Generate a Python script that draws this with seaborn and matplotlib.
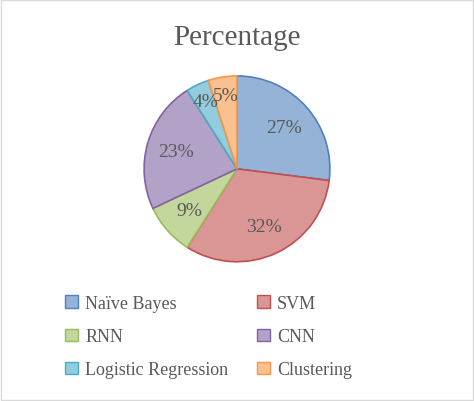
import numpy as np
import matplotlib.pyplot as plt
import seaborn as sns
from matplotlib.patches import Patch, Rectangle

sns.set_style("white")
plt.rcParams['font.family'] = ['Liberation Serif', 'DejaVu Serif']

# data
labels = ["Naïve Bayes", "SVM", "RNN", "CNN", "Logistic Regression", "Clustering"]
values = [27, 32, 9, 23, 4, 5]

fills = ["#95B3D7", "#D99694", "#C3D69B", "#B3A2C7", "#93CDDD", "#FAC090"]
edges = ["#4F81BD", "#C0504D", "#9BBB59", "#8064A2", "#4BACC6", "#F79646"]
text_color = "#595959"

fig = plt.figure(figsize=(4.74, 4.02), dpi=100)
fig.patches.append(Rectangle((0.003, 0.003), 0.994, 0.994, transform=fig.transFigure,
                             fill=False, edgecolor="#D9D9D9", linewidth=1))

ax = fig.add_axes([0.304, 0.346, 0.392, 0.463])
wedges, texts = ax.pie(values, colors=fills, startangle=90, counterclock=False,
                       wedgeprops=dict(linewidth=1.2))
for w, ec in zip(wedges, edges):
    w.set_edgecolor(ec)
ax.set_xlim(-1.0, 1.0)
ax.set_ylim(-1.0, 1.0)
ax.set_aspect("equal")

# percentage labels
for w, v in zip(wedges, values):
    ang = np.deg2rad((w.theta1 + w.theta2) / 2)
    r = 0.68 if v > 6 else 0.8
    ax.text(r * np.cos(ang), r * np.sin(ang), f"{v}%", ha="center", va="center",
            fontsize=14, color=text_color)

fig.text(0.5, 0.905, "Percentage", ha="center", va="center", fontsize=21, color=text_color)

handles = [Patch(facecolor=f, edgecolor=e, label=l) for f, e, l in zip(fills, edges, labels)]
order = [0, 2, 4, 1, 3, 5]  # row-wise reading order
leg = fig.legend(handles=[handles[i] for i in order], ncol=2, loc="center",
                 bbox_to_anchor=(0.44, 0.16), frameon=False, fontsize=13,
                 handlelength=0.7, handleheight=0.7, handletextpad=0.4,
                 columnspacing=1.6, labelspacing=0.9)
for t in leg.get_texts():
    t.set_color(text_color)

plt.savefig("out.png", dpi=100)
